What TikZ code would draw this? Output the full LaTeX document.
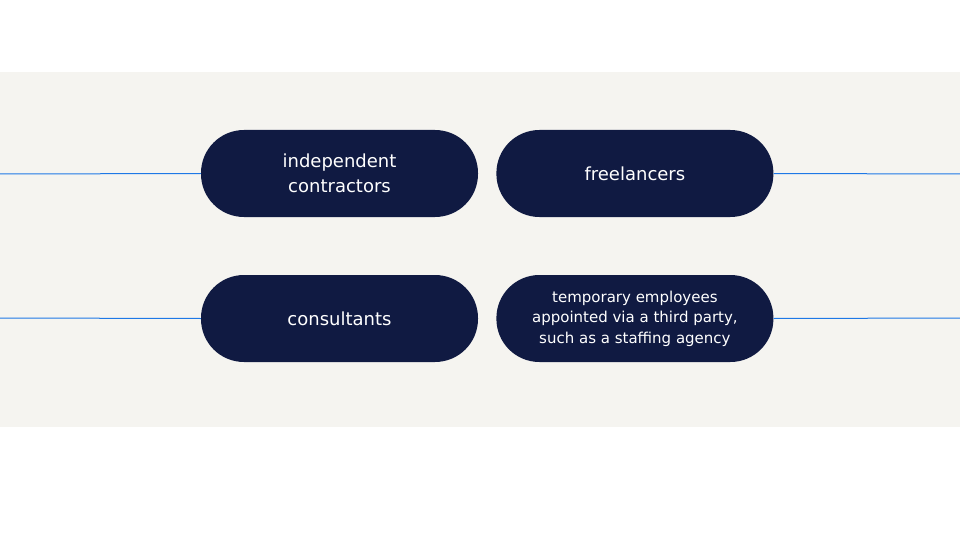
\documentclass[tikz,border=0pt]{standalone}
\usepackage{fontspec}
\setmainfont{DejaVu Sans}
\usepackage{tikz}
\usetikzlibrary{positioning}
\definecolor{bandColor}{HTML}{F5F4F0}
\definecolor{pillColor}{HTML}{101A42}
\definecolor{lineColor}{HTML}{1E78E6}
\tikzstyle{slide} = [x = 1pt, y = -1pt]
\tikzstyle{pillStyle} = [fill=pillColor, text=white, rounded corners = 43pt, minimum width = 277pt, minimum height = 87pt, align=center, inner sep=0pt]
\tikzstyle{bigText} = [font=\fontsize{18}{25}\selectfont]
\tikzstyle{smallText} = [font=\fontsize{15}{20.5}\selectfont]
\tikzstyle{linkLine} = [color=lineColor, line width=1pt]
\begin{document}
\begin{tikzpicture}[slide]
  \useasboundingbox (0,0) rectangle (960,540);
  \fill [bandColor] (0,72) rectangle (960,427);
  \node [pillStyle, bigText] (contractors) at (339.5,173.5) {independent\\contractors};
  \node [pillStyle, bigText, right = 18pt of contractors] (freelancers) {freelancers};
  \node [pillStyle, bigText] (consultants) at (339.5,318.5) {consultants};
  \node [pillStyle, smallText, right = 18pt of consultants] (temporary) {temporary employees\\appointed via a third party,\\such as a staffing agency};
  \coordinate (leftTop) at (0,174);
  \coordinate (rightTop) at (960,174);
  \coordinate (leftBottom) at (0,318);
  \coordinate (rightBottom) at (960,318);
  \draw [linkLine] (leftTop) -- (contractors.west);
  \draw [linkLine] (freelancers.east) -- (rightTop);
  \draw [linkLine] (leftBottom) -- (consultants.west);
  \draw [linkLine] (temporary.east) -- (rightBottom);
\end{tikzpicture}
\end{document}
